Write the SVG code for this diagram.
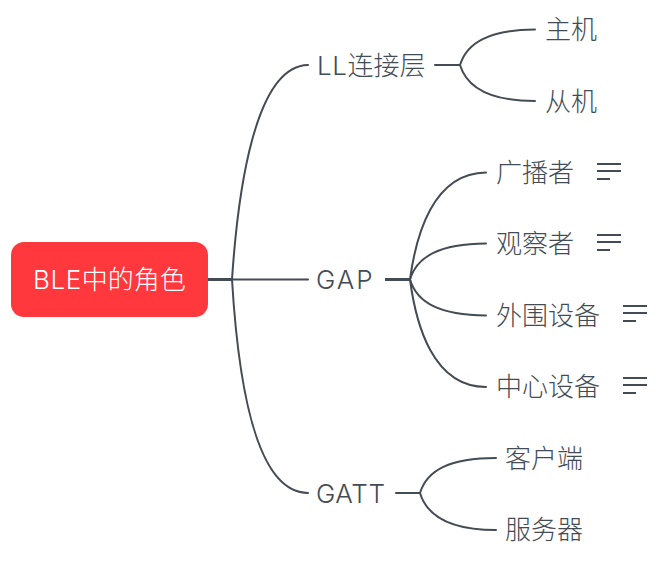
<svg xmlns="http://www.w3.org/2000/svg" width="661" height="572" viewBox="0 0 661 572">
<style>
text{font-family:"Inter","Noto Sans CJK SC",sans-serif;font-size:26px;fill:#434b54;font-weight:300}
.l{letter-spacing:.6px}
.c{fill:none;stroke:#434b54;stroke-width:2;stroke-linecap:round}
.s{fill:none;stroke:#434b54;stroke-width:3}
.m{stroke:#434b54;stroke-width:2}
</style>
<defs><g id="note"><path class="m" d="M0 0H24M0 7H24M0 15H13" fill="none"/></g></defs>
<rect width="661" height="572" fill="#fff"/>
<g id="connectors">
<path class="s" d="M208 279.500H232"/>
<path class="c" d="M232 279.500C238 190 255 66 308 65"/>
<path class="c" d="M232 279.500H308"/>
<path class="c" d="M232 279.500C238 380 255 493 308 493"/>
<path class="c" d="M435 65H460"/>
<path class="c" d="M460 65C467 42 490 30 535 29.500"/>
<path class="c" d="M460 65C467 88 490 101 535 101"/>
<path class="s" d="M385 279.500H410"/>
<path class="c" d="M410 279.500C416 235 433 173 486 172.500"/>
<path class="c" d="M410 279.500C417 256 440 244 486 243.500"/>
<path class="c" d="M410 279.500C417 303 440 315 486 315.500"/>
<path class="c" d="M410 279.500C416 325 433 387 486 387"/>
<path class="c" d="M396 493H420"/>
<path class="c" d="M420 493C427 470 450 458 496 458"/>
<path class="c" d="M420 493C427 516 450 530 496 530"/>
</g>
<g id="root"><rect x="11" y="242" width="197" height="75" rx="13" fill="#ff383d"/><text x="33" y="289" style="fill:#fff"><tspan class="l">BLE</tspan>中的角色</text></g>
<g id="n1"><text x="317" y="75"><tspan class="l">LL</tspan>连接层</text></g>
<g id="n2"><text x="316" y="289" class="l" style="letter-spacing:2px">GAP</text></g>
<g id="n3"><text x="316" y="503" class="l">GATT</text></g>
<g id="n4"><text x="545" y="39">主机</text></g>
<g id="n5"><text x="545" y="111">从机</text></g>
<g id="n6"><text x="496" y="182">广播者</text><use href="#note" x="597" y="164"/></g>
<g id="n7"><text x="496" y="253">观察者</text><use href="#note" x="597" y="235"/></g>
<g id="n8"><text x="496" y="325">外围设备</text><use href="#note" x="623" y="306"/></g>
<g id="n9"><text x="496" y="396">中心设备</text><use href="#note" x="623" y="378"/></g>
<g id="n10"><text x="505" y="468">客户端</text></g>
<g id="n11"><text x="505" y="539">服务器</text></g>
</svg>
